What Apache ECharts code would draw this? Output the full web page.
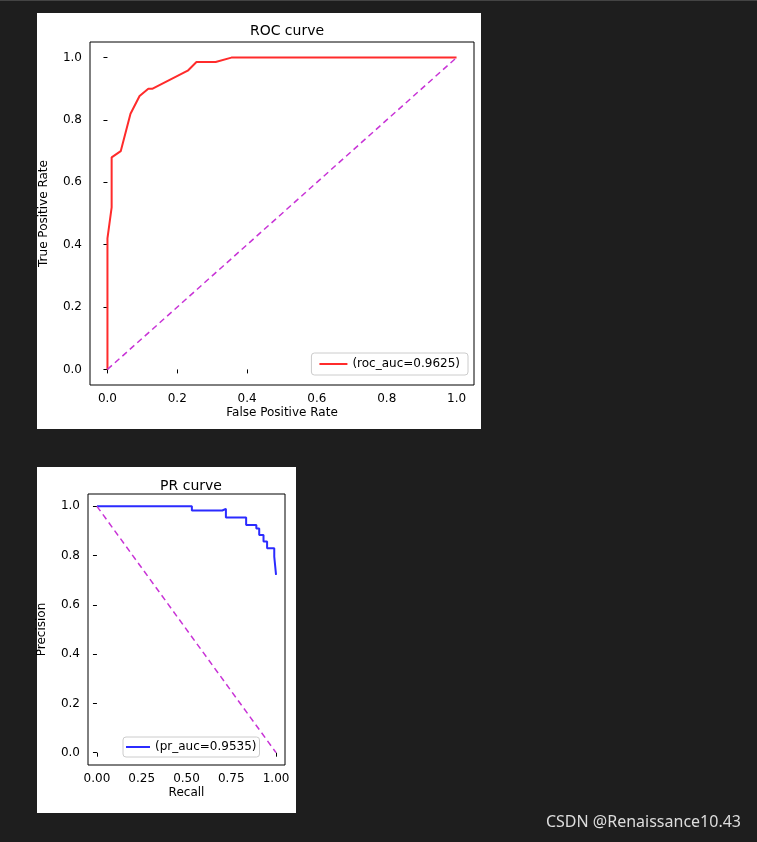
<!DOCTYPE html>
<html><head><meta charset="utf-8">
<script src="https://cdn.jsdelivr.net/npm/echarts@6/dist/echarts.min.js"></script>
<style>html,body{margin:0;background:#1e1e1e}#c{width:757px;height:842px}</style>
</head><body><div id="c"></div>
<script>
var rocX = [0, 0, 0.012, 0.012, 0.038, 0.066, 0.092, 0.117, 0.128, 0.23, 0.255, 0.31, 0.355, 1.0];
var rocY = [0, 0.42, 0.52, 0.68, 0.70, 0.82, 0.877, 0.90, 0.90, 0.958, 0.986, 0.986, 1.0, 1.0];
var prX = [0, 0.53, 0.53, 0.70, 0.70, 0.72, 0.72, 0.833, 0.833, 0.89, 0.89, 0.906, 0.906, 0.93, 0.93, 0.95, 0.95, 0.99, 0.99, 1.0, 1.0];
var prY = [1.0, 1.0, 0.983, 0.983, 0.99, 0.99, 0.955, 0.955, 0.924, 0.924, 0.91, 0.91, 0.884, 0.884, 0.857, 0.857, 0.83, 0.83, 0.796, 0.796, 0.722];
var rocTicks = [0, 0.2, 0.4, 0.6, 0.8, 1.0];
var prXTicks = [0, 0.25, 0.5, 0.75, 1.0];
var rocAuc = '0.9625', prAuc = '0.9535';

function zip(a, b) { return a.map(function (v, i) { return [v, b[i]]; }); }
var font = 'DejaVu Sans';
function axis(idx, ticks, name, dec, gap) {
  return {
    type: 'value', gridIndex: idx, min: -0.05, max: 1.05, name: name, nameLocation: 'middle', nameGap: gap,
    nameTextStyle: { color: '#000', fontSize: 12, fontFamily: font },
    splitLine: { show: false },
    axisLine: { show: false },
    axisTick: { show: true, customValues: ticks, length: 4, lineStyle: { color: '#000' } },
    axisLabel: { customValues: ticks, color: '#000', fontSize: 12, fontFamily: font,
      formatter: function (v) { return v.toFixed(dec); } }
  };
}
var chart = echarts.init(document.getElementById('c'));
chart.setOption({
  backgroundColor: '#1e1e1e',
  animation: false,
  graphic: [
    { type: 'rect', shape: { x: 37, y: 13, width: 444, height: 416 }, style: { fill: '#fff' }, z: -10 },
    { type: 'rect', shape: { x: 37, y: 467, width: 259, height: 346 }, style: { fill: '#fff' }, z: -10 },
    { type: 'rect', shape: { x: 0, y: 0, width: 757, height: 1 }, style: { fill: '#444' }, z: -10 },
    { type: 'text', right: 16, top: 814, style: { text: 'CSDN @Renaissance10.43', fill: '#ddd', fontSize: 16, fontFamily: 'Noto Sans' } }
  ],
  title: [
    { text: 'ROC curve', left: 282, top: 19, textAlign: 'center', textStyle: { color: '#000', fontSize: 14, fontWeight: 'normal', fontFamily: font } },
    { text: 'PR curve', left: 186, top: 474, textAlign: 'center', textStyle: { color: '#000', fontSize: 14, fontWeight: 'normal', fontFamily: font } }
  ],
  grid: [
    { left: 90, top: 42, width: 384, height: 343, show: true, borderColor: '#000', borderWidth: 1, backgroundColor: '#fff' },
    { left: 88, top: 494, width: 197, height: 271, show: true, borderColor: '#000', borderWidth: 1, backgroundColor: '#fff' }
  ],
  xAxis: [axis(0, rocTicks, 'False Positive Rate', 1, 22), axis(1, prXTicks, 'Recall', 2, 22)],
  yAxis: [axis(0, rocTicks, 'True Positive Rate', 1, 40), axis(1, rocTicks, 'Precision', 1, 40)],
  legend: [
    { data: ['(roc_auc=' + rocAuc + ')'], right: 289, top: 353, backgroundColor: '#fff', borderColor: '#ccc', borderWidth: 1, borderRadius: 3, padding: [5, 8], itemWidth: 28, itemHeight: 2, textStyle: { color: '#000', fontSize: 12, fontFamily: font }, icon: 'rect' },
    { data: ['(pr_auc=' + prAuc + ')'], left: 123, top: 737, backgroundColor: '#fff', borderColor: '#ccc', borderWidth: 1, borderRadius: 3, padding: [4, 3], itemWidth: 24, itemHeight: 2, textStyle: { color: '#000', fontSize: 12, fontFamily: font }, icon: 'rect' }
  ],
  series: [
    { name: '(roc_auc=' + rocAuc + ')', type: 'line', xAxisIndex: 0, yAxisIndex: 0, data: zip(rocX, rocY), showSymbol: false, color: '#ff2b2b', lineStyle: { width: 2 } },
    { type: 'line', xAxisIndex: 0, yAxisIndex: 0, data: [[0, 0], [1, 1]], showSymbol: false, color: '#c833d6', lineStyle: { width: 1.5, type: [6, 4] } },
    { name: '(pr_auc=' + prAuc + ')', type: 'line', xAxisIndex: 1, yAxisIndex: 1, data: zip(prX, prY), showSymbol: false, color: '#2b2bff', lineStyle: { width: 2 } },
    { type: 'line', xAxisIndex: 1, yAxisIndex: 1, data: [[0, 1], [1, 0]], showSymbol: false, color: '#c833d6', lineStyle: { width: 1.5, type: [6, 4] } }
  ]
});
</script></body></html>
